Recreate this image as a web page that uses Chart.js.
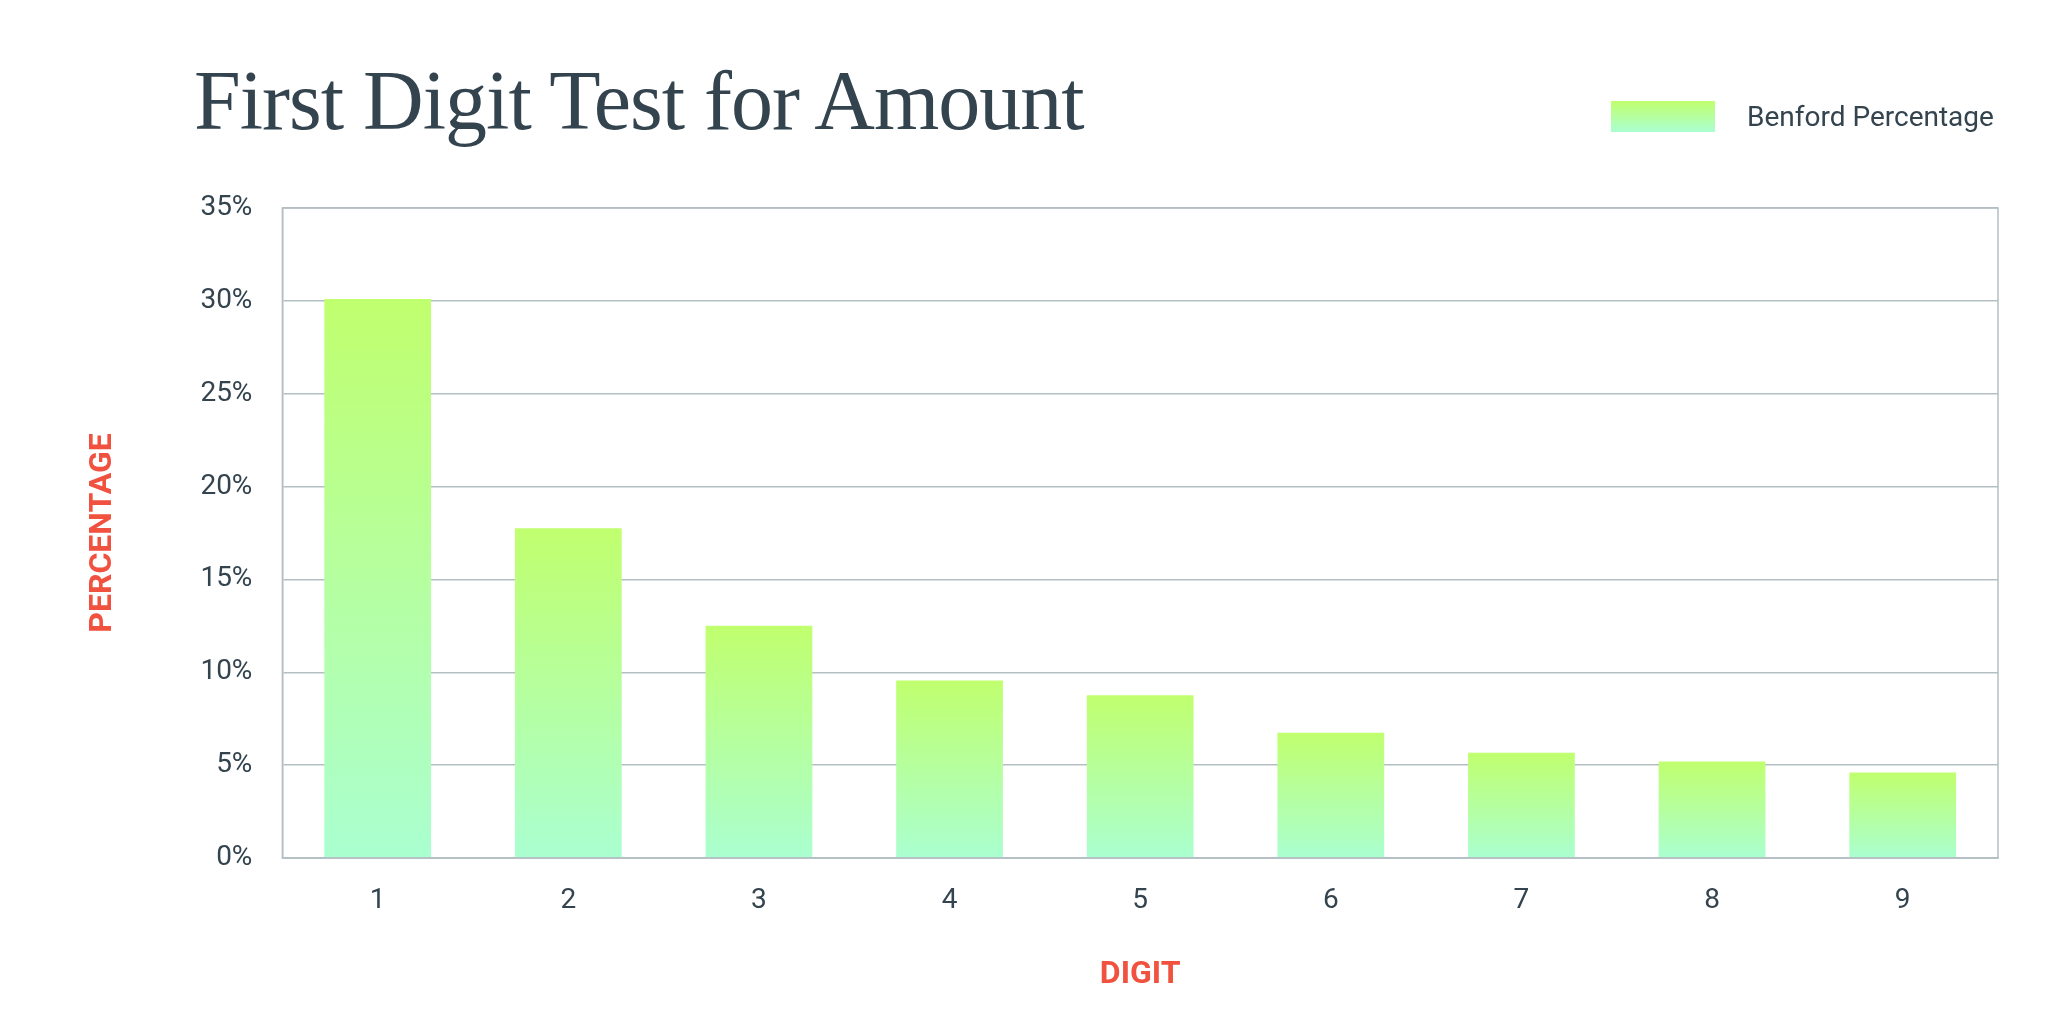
<!DOCTYPE html>
<html>
<head>
<meta charset="utf-8">
<script src="https://cdn.jsdelivr.net/npm/chart.js@4"></script>
<style>
  html, body { margin: 0; padding: 0; background: #fff; }
  #wrap { position: relative; width: 2048px; height: 1024px; }
  #title { position: absolute; left: 194px; top: 52px; font-family: "Liberation Serif", serif; font-size: 84px; color: #34444f; letter-spacing: -1px; }
  #legend { position: absolute; left: 1611px; top: 100px; display: flex; align-items: center; font-family: Roboto, sans-serif; font-size: 28px; color: #34444f; }
  #legend .box { width: 104px; height: 31px; background: linear-gradient(#c0ff6e, #aaffd0); margin-right: 32px; }
</style>
</head>
<body>
<div id="wrap">
  <canvas id="c" width="2048" height="1024"></canvas>
  <div id="title">First Digit Test for Amount</div>
  <div id="legend"><div class="box"></div>Benford Percentage</div>
</div>
<script>
const digits = ["1", "2", "3", "4", "5", "6", "7", "8", "9"];
const benford = [30.1, 17.75, 12.5, 9.56, 8.76, 6.75, 5.67, 5.2, 4.6];
const yTicks = [0, 5, 10, 15, 20, 25, 30, 35];

const grey = "#b3bfc2";
const frame = {
  id: "frame",
  afterDatasetsDraw(chart) {
    const a = chart.chartArea, ctx = chart.ctx;
    ctx.save();
    ctx.strokeStyle = grey;
    ctx.lineWidth = 1.5;
    ctx.strokeRect(a.left, a.top, a.right - a.left, a.bottom - a.top);
    ctx.restore();
  }
};

new Chart(document.getElementById("c"), {
  type: "bar",
  data: {
    labels: digits,
    datasets: [{
      label: "Benford Percentage",
      data: benford,
      categoryPercentage: 0.56,
      barPercentage: 1,
      backgroundColor: ctx => {
        const chart = ctx.chart;
        if (!chart.chartArea || ctx.parsed == null) return "#b8ff9a";
        const y = chart.scales.y;
        const g = chart.ctx.createLinearGradient(0, y.getPixelForValue(ctx.parsed.y), 0, y.getPixelForValue(0));
        g.addColorStop(0, "#c0ff6e");
        g.addColorStop(1, "#aaffd0");
        return g;
      }
    }]
  },
  options: {
    responsive: false,
    animation: false,
    layout: { padding: { left: 80, right: 50, top: 208, bottom: 26 } },
    plugins: { legend: { display: false }, tooltip: { enabled: false } },
    scales: {
      x: {
        grid: { display: false },
        border: { color: grey, width: 1.5 },
        ticks: { color: "#34444f", font: { family: "Roboto", size: 28 }, padding: 18 },
        title: { display: true, text: "DIGIT", color: "#f0523f", font: { family: "Roboto", size: 32, weight: "bold" }, padding: { top: 20 } }
      },
      y: {
        min: 0, max: 35,
        afterBuildTicks: axis => { axis.ticks = yTicks.map(v => ({ value: v })); },
        grid: { color: grey, lineWidth: 1.5, drawTicks: false },
        border: { color: grey, width: 1.5 },
        ticks: { color: "#34444f", font: { family: "Roboto", size: 28 }, padding: 30, callback: v => v + "%" },
        title: { display: true, text: "PERCENTAGE", color: "#f0523f", font: { family: "Roboto", size: 32, weight: "bold" }, padding: { bottom: 48 } }
      }
    }
  },
  plugins: [frame]
});
</script>
</body>
</html>
